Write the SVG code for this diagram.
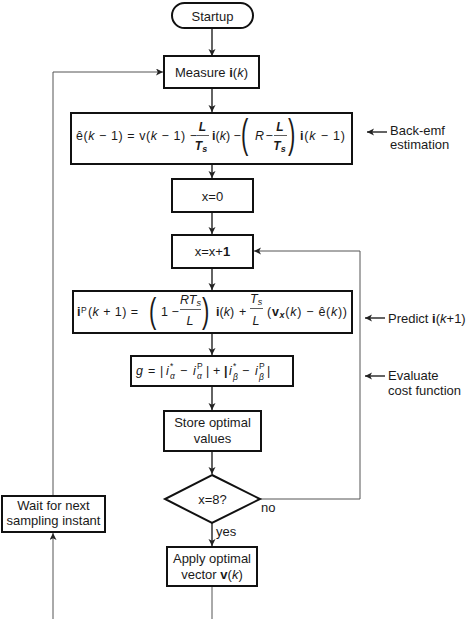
<svg xmlns="http://www.w3.org/2000/svg" width="474" height="619" viewBox="0 0 474 619">
<style>
.box{fill:#fff;stroke:#111;stroke-width:2}
.t{font-family:"Liberation Sans",Arial,sans-serif;font-size:13px;fill:#1a1a1a}
.m{font-family:"Liberation Sans",Arial,sans-serif;font-size:12.5px;fill:#1a1a1a}
.f{font-family:"Liberation Sans",Arial,sans-serif;font-size:12px;fill:#1a1a1a;font-style:italic;font-weight:bold;text-anchor:middle}
.big{font-family:"Liberation Sans",Arial,sans-serif;font-size:40px;fill:#1a1a1a}
.sm{font-family:"Liberation Sans",Arial,sans-serif;font-size:8.5px;fill:#1a1a1a}
.i{font-style:italic}
.b{font-weight:bold}
.c{fill:none;stroke:#222;stroke-width:1.4}
.g{fill:none;stroke:#555;stroke-width:1}
.bar{stroke:#333;stroke-width:0.8}
.mid{text-anchor:middle}
</style>
<defs>
<marker id="ah" markerWidth="8" markerHeight="8" refX="7" refY="3.5" orient="auto" markerUnits="userSpaceOnUse">
<path d="M0,0 L7,3.5 L0,7 L1.8,3.5 z" fill="#222"/>
</marker>
</defs>

<g id="connectors">
<path class="c" d="M212,28 V56" marker-end="url(#ah)"/>
<path class="c" d="M212,88 V112" marker-end="url(#ah)"/>
<path class="c" d="M212,164 V178" marker-end="url(#ah)"/>
<path class="c" d="M212,212 V234" marker-end="url(#ah)"/>
<path class="c" d="M212,268 V290" marker-end="url(#ah)"/>
<path class="c" d="M212,333 V355" marker-end="url(#ah)"/>
<path class="c" d="M212,386 V410" marker-end="url(#ah)"/>
<path class="c" d="M212,451 V474" marker-end="url(#ah)"/>
<path class="c" d="M212,523 V546" marker-end="url(#ah)"/>
<path class="g" d="M260,499 H360 V251 H254" marker-end="url(#ah)"/>
<path class="g" d="M212,586 V619"/>
<path class="g" d="M53,619 V533" marker-end="url(#ah)"/>
<path class="g" d="M53,496 V72 H163" marker-end="url(#ah)"/>
<path class="c" d="M387,132 H367" marker-end="url(#ah)"/>
<path class="c" d="M385,318 H365" marker-end="url(#ah)"/>
<path class="c" d="M385,376 H365" marker-end="url(#ah)"/>
</g>

<g id="startup">
<rect class="box" x="172" y="3" width="81" height="25" rx="12.5"/>
<text class="t mid" x="212.5" y="20.5">Startup</text>
</g>

<g id="measure">
<rect class="box" x="164" y="56" width="95" height="32"/>
<text class="t mid" x="211.5" y="77">Measure <tspan class="b">i</tspan>(<tspan class="i">k</tspan>)</text>
</g>

<g id="backemf">
<rect class="box" x="71" y="113" width="281" height="51"/>
<text class="m" x="76" y="140" textLength="121" lengthAdjust="spacing">ê(<tspan class="i">k</tspan> − 1) = v(<tspan class="i">k</tspan> − 1) −</text>
<text class="f" x="202.5" y="131">L</text>
<line class="bar" x1="197" y1="135.5" x2="209" y2="135.5"/>
<text class="f" x="201" y="150">T<tspan font-size="9" dy="2">s</tspan></text>
<text class="m" x="212" y="140"><tspan class="b">i</tspan>(<tspan class="i">k</tspan>) −</text>
<text class="big" transform="translate(241,148) scale(0.55,1)" x="0" y="0">(</text>
<text class="m i" x="255" y="140">R</text>
<text class="m" x="265.5" y="140">−</text>
<text class="f" x="280" y="131" font-weight="normal">L</text>
<line class="bar" x1="274" y1="135.5" x2="287" y2="135.5"/>
<text class="f" x="279.5" y="150" font-weight="normal">T<tspan font-size="9" dy="2">s</tspan></text>
<text class="big" transform="translate(288,148) scale(0.55,1)" x="0" y="0">)</text>
<text class="m" x="300" y="140" textLength="45" lengthAdjust="spacing"><tspan class="b">i</tspan>(<tspan class="i">k</tspan> −  1)</text>
</g>
<g id="backemf-label">
<text class="t" x="390" y="135">Back-emf</text>
<text class="t" x="390" y="149">estimation</text>
</g>

<g id="x0">
<rect class="box" x="172" y="179" width="81" height="33"/>
<text class="t mid" x="212.5" y="200.5">x=0</text>
</g>

<g id="xinc">
<rect class="box" x="172" y="235" width="81" height="33"/>
<text class="t mid" x="212.5" y="256">x=x+<tspan class="b">1</tspan></text>
</g>

<g id="predict">
<rect class="box" x="73" y="291" width="279" height="42"/>
<text class="m b" x="77" y="316">i</text>
<text class="sm" x="81" y="312.5" font-size="9">P</text>
<text class="m" x="88" y="316" textLength="50" lengthAdjust="spacing">(<tspan class="i">k</tspan> + 1) =</text>
<text class="big" transform="translate(149,322.5) scale(0.55,0.88)" x="0" y="0">(</text>
<text class="m" x="161" y="316">1 −</text>
<text class="m i" x="180" y="304">RT<tspan font-size="9" dy="2">s</tspan></text>
<line class="bar" x1="180" y1="309.5" x2="201" y2="309.5"/>
<text class="m i mid" x="190" y="325">L</text>
<text class="big" transform="translate(202,322.5) scale(0.55,0.88)" x="0" y="0">)</text>
<text class="m" x="216" y="316"><tspan class="b">i</tspan>(<tspan class="i">k</tspan>)</text>
<text class="m" x="239" y="316">+</text>
<text class="m i" x="250" y="303">T<tspan font-size="9" dy="2">s</tspan></text>
<line class="bar" x1="250" y1="308.5" x2="263" y2="308.5"/>
<text class="m i mid" x="256" y="325">L</text>
<text class="m" x="267" y="316" textLength="80" lengthAdjust="spacing">(<tspan class="b">v</tspan><tspan class="i b" font-size="9" dy="2">x</tspan><tspan dy="-2">(</tspan><tspan class="i">k</tspan>) − ê(<tspan class="i">k</tspan>))</text>
</g>
<g id="predict-label">
<text class="t" x="388" y="323">Predict <tspan class="b">i</tspan>(<tspan class="i">k</tspan>+1)</text>
</g>

<g id="cost">
<rect class="box" x="131" y="356" width="162" height="30"/>
<text class="m i" x="136" y="375" font-size="14">g</text>
<text class="m" x="148" y="375">=</text>
<text class="m" x="160" y="375">|</text>
<text class="m i" x="166" y="375">i</text>
<text class="sm" x="170" y="369">*</text>
<text class="sm i" x="170" y="379">α</text>
<text class="m" x="180" y="375">−</text>
<text class="m i" x="193" y="375">i</text>
<text class="sm" x="197" y="369">P</text>
<text class="sm i" x="197" y="379">α</text>
<text class="m" x="206" y="375">|</text>
<text class="m" x="213" y="375">+</text>
<text class="m b" x="224" y="375">|</text>
<text class="m i" x="229" y="375">i</text>
<text class="sm" x="233" y="369">*</text>
<text class="sm i" x="233" y="380">β</text>
<text class="m" x="242" y="375">−</text>
<text class="m i" x="255" y="375">i</text>
<text class="sm" x="259" y="369">P</text>
<text class="sm i" x="259" y="380">β</text>
<text class="m" x="267" y="375">|</text>
</g>
<g id="cost-label">
<text class="t" x="388" y="380">Evaluate</text>
<text class="t" x="388" y="395">cost function</text>
</g>

<g id="store">
<rect class="box" x="164" y="411" width="97" height="40"/>
<text class="t mid" x="212.5" y="427">Store optimal</text>
<text class="t mid" x="212.5" y="443">values</text>
</g>

<g id="decision">
<polygon class="box" points="212,475 260,499 212,523 165,499"/>
<text class="t mid" x="212.5" y="503.5">x=8?</text>
<text class="t" x="261" y="512">no</text>
<text class="t" x="216" y="536">yes</text>
</g>

<g id="apply">
<rect class="box" x="167" y="547" width="90" height="39"/>
<text class="t mid" x="212" y="563">Apply optimal</text>
<text class="t mid" x="212" y="579">vector <tspan class="b">v</tspan>(<tspan class="i">k</tspan>)</text>
</g>

<g id="wait">
<rect class="box" x="2" y="496" width="103" height="36"/>
<text class="t mid" x="53.5" y="510">Wait for next</text>
<text class="t mid" x="53.5" y="525">sampling instant</text>
</g>
</svg>
